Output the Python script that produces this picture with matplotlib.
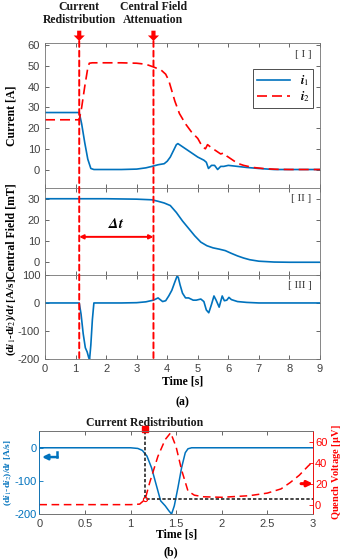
import numpy as np
import matplotlib
matplotlib.use('Agg')
import matplotlib.pyplot as plt
from matplotlib.patches import ConnectionPatch

plt.rcParams['font.family'] = ['Liberation Sans', 'DejaVu Sans']
plt.rcParams['mathtext.fontset'] = 'stix'
plt.rcParams['font.size'] = 7.5
plt.rcParams['axes.unicode_minus'] = False

# ---- data (a) ----
t_i1 = [0, 1.12, 1.2, 1.3, 1.4, 1.5, 1.6, 2.0, 2.5, 3.0, 3.3, 3.5, 3.7, 3.9, 4.0, 4.1, 4.2, 4.3,
        4.35, 4.45, 4.6, 4.8, 5.0, 5.2, 5.28, 5.35, 5.45, 5.55, 5.65, 5.75, 5.85, 6.0, 6.3, 6.6,
        7.0, 7.5, 9.0]
i1 = [27.5, 27.5, 22, 13, 5, 0.5, 0, 0, 0, 0.2, 0.8, 1.5, 2.3, 2.8, 4, 6, 9, 12,
      12.5, 11.5, 10, 8, 6, 4.5, 3.5, 0.5, 2, 2, 0, 1.5, 1.5, 2, 1.5, 1,
      0.5, 0, 0]

t_i2 = [0, 1.12, 1.2, 1.3, 1.4, 1.45, 1.55, 2.0, 2.5, 3.0, 3.3, 3.55, 3.8, 3.95, 4.05, 4.15, 4.25,
        4.4, 4.6, 4.8, 5.0, 5.15, 5.25, 5.32, 5.45, 5.6, 5.75, 5.85, 5.95, 6.1, 6.3, 6.5, 6.8,
        7.2, 7.6, 8.0, 9.0]
i2 = [24, 24, 30, 40, 49, 51.3, 51.5, 51.5, 51.5, 51.3, 50.8, 49.5, 48, 46, 43, 38, 33,
      27, 22, 18, 15, 11, 10, 12, 10.5, 9, 7.5, 8, 6.5, 5, 3, 2, 1,
      0.4, 0.1, 0, 0]

t_field = [0, 1, 2, 3, 3.5, 3.7, 3.9, 4.1, 4.3, 4.5, 4.7, 4.9, 5.1, 5.3, 5.5, 5.7, 5.9, 6.1,
           6.3, 6.5, 6.7, 7.0, 7.5, 8, 9]
field = [30, 30, 30, 29.8, 29.5, 28.8, 28, 26.8, 23.5, 19.5, 16, 12.5, 9.5, 7.8, 6.8, 6.2, 5.5, 4.2,
         3, 2, 1.2, 0.5, 0.1, 0, 0]

t_didt = [0, 1.12, 1.18, 1.25, 1.32, 1.38, 1.43, 1.46, 1.5, 1.55, 1.6, 2.0, 2.5, 3.0, 3.3, 3.55,
          3.7, 3.85, 3.95, 4.05, 4.15, 4.25, 4.32, 4.36, 4.42, 4.5, 4.6, 4.7, 4.85, 4.95, 5.1,
          5.2, 5.28, 5.36, 5.45, 5.53, 5.6, 5.7, 5.8, 5.87, 5.95, 6.02, 6.1, 6.3, 6.6, 7.0, 9.0]
didt = [0, 0, -40, -110, -160, -175, -195, -200, -150, -60, 0, 0, 0, 1, 4, 10,
        18, 5, 8, 25, 45, 75, 95, 92, 65, 35, 18, 18, 10, 10, 14,
        5, -25, -35, -5, 25, 10, -15, 25, 8, 10, 20, 12, 5, 2, 0, 0]

t_redist = 1.12
t_atten = 3.55

# ---- data (b) ----
t_b = [0, 0.5, 1.0, 1.08, 1.13, 1.18, 1.23, 1.28, 1.33, 1.38, 1.42, 1.45, 1.48, 1.52, 1.56,
       1.6, 1.63, 1.67, 1.75, 2.0, 2.5, 3.0]
didt_b = [0, 0, 0, -2, -8, -25, -60, -110, -160, -175, -190, -200, -175, -120, -60,
          -15, -3, 0, 0, 0, 0, 0]
t_v = [0, 0.5, 1.0, 1.1, 1.16, 1.21, 1.3, 1.38, 1.44, 1.5, 1.56, 1.63, 1.7, 1.8, 2.0, 2.3, 2.5,
       2.65, 2.75, 2.85, 2.95, 3.0]
vq = [0, 0, 0, 0.5, 5, 21, 46, 62, 68.5, 55, 33, 13, 9, 7.5, 7, 8.5, 11,
      15, 21, 28, 37, 41]
t_onset = 1.16
v_onset = 5

BLUE = '#0072BD'
RED = '#FF0000'
GREY = '0.3'
SERIF = dict(family='Liberation Serif', weight='bold')


def style(ax):
    ax.tick_params(direction='in', length=3, top=True, right=True, colors=GREY,
                   labelcolor='0.25', labelsize=8, width=0.6)
    for s in ax.spines.values():
        s.set_color('0.45')
        s.set_linewidth(0.6)


fig = plt.figure(figsize=(3.42, 5.6), dpi=100)

ax1 = fig.add_axes([0.1316, 0.664, 0.804, 0.259])
ax2 = fig.add_axes([0.1316, 0.509, 0.804, 0.155])
ax3 = fig.add_axes([0.1316, 0.359, 0.804, 0.150])

# panel I
ax1.plot(t_i1, i1, color=BLUE, lw=1.2, label=r'$\mathbfit{i}_1$')
ax1.plot(t_i2, i2, color=RED, lw=1.2, ls=(0, (6, 3)), label=r'$\mathbfit{i}_2$')
ax1.set_ylim(-9, 61)
ax1.set_yticks([0, 10, 20, 30, 40, 50, 60])
ax1.set_ylabel('Current [A]', fontdict=SERIF, fontsize=8.5)
leg = ax1.legend(loc='upper left', bbox_to_anchor=(0.735, 0.862), fontsize=9,
                 fancybox=False, edgecolor='0.3', handlelength=2.6, borderpad=0.3,
                 labelspacing=0.1, framealpha=1)
leg.get_frame().set_linewidth(0.7)
ax1.text(0.97, 0.95, '[ I ]', transform=ax1.transAxes, ha='right', va='top',
         fontsize=8, family='Liberation Serif', color='0.2')

# panel II
ax2.plot(t_field, field, color=BLUE, lw=1.2)
ax2.set_ylim(-6, 35)
ax2.set_yticks([0, 10, 20, 30])
ax2.set_ylabel('Central Field [mT]', fontdict=SERIF, fontsize=8.5)
ax2.text(0.97, 0.93, '[ II ]', transform=ax2.transAxes, ha='right', va='top',
         fontsize=8, family='Liberation Serif', color='0.2')
ax2.annotate('', xy=(t_redist, 12), xytext=(t_atten, 12),
             arrowprops=dict(arrowstyle='<|-|>', color=RED, lw=1.4,
                             mutation_scale=6, shrinkA=0, shrinkB=0))
ax2.text((t_redist + t_atten) / 2, 18, r'$\mathbfit{\Delta t}$', ha='center',
         va='center', fontsize=10.5)

# panel III
ax3.plot(t_didt, didt, color=BLUE, lw=1.2)
ax3.set_ylim(-200, 100)
ax3.set_yticks([-200, -100, 0, 100])
ax3.set_ylabel(r'(d$\mathbfit{i}_1$-d$\mathbfit{i}_2$)/d$\mathbfit{t}$ [A/s]',
               fontdict=SERIF, fontsize=8)
ax3.text(0.97, 0.93, '[ III ]', transform=ax3.transAxes, ha='right', va='top',
         fontsize=8, family='Liberation Serif', color='0.2')
ax3.set_xlabel('Time [s]', fontdict=SERIF, fontsize=8.5, labelpad=1)

for ax in (ax1, ax2, ax3):
    style(ax)
    ax.set_xlim(0, 9)
    ax.set_xticks(range(10))
    ax.yaxis.set_label_coords(-0.1, 0.5)
for ax in (ax1, ax2):
    ax.tick_params(labelbottom=False)

# red dashed markers across panels
for t, txt in ((t_redist, 'Current\nRedistribution'), (t_atten, 'Central Field\nAttenuation')):
    con = ConnectionPatch(xyA=(t, 62), coordsA=ax1.transData, xyB=(t, -200),
                          coordsB=ax3.transData, color=RED, lw=1.4, ls=(0, (3, 2)),
                          zorder=5)
    fig.add_artist(con)
    ax1.annotate('', xy=(t, 62), xytext=(t, 67), annotation_clip=False,
                 arrowprops=dict(width=3, headwidth=8, headlength=4, color=RED, lw=0))
    ax1.text(t, 69.5, txt, ha='center', va='bottom', fontsize=8.5, fontdict=SERIF,
             linespacing=1.05, clip_on=False, color='0.1')

fig.text(0.5 * (0.1316 * 2 + 0.804), 0.282, '(a)', ha='center', va='center',
         fontsize=8.5, fontdict=SERIF)

# ---- panel (b) ----
axb = fig.add_axes([0.115, 0.082, 0.800, 0.148])
axr = axb.twinx()
axb.plot(t_b, didt_b, color=BLUE, lw=1.1)
axr.plot(t_v, vq, color=RED, lw=1.1, ls=(0, (5, 3)))
axr.plot([t_onset, t_onset, 3.0], [70, v_onset, v_onset], color='0.15', lw=1.2,
         ls=(0, (2, 1.2)), clip_on=False)
axr.plot([t_onset], [v_onset], 'o', ms=3, mfc='none', mec=RED, mew=0.8)
axr.plot([t_onset], [72.5], 's', ms=4.5, color=RED, clip_on=False)

axb.set_xlim(0, 3)
axb.set_xticks([0, 0.5, 1, 1.5, 2, 2.5, 3])
axb.set_xticklabels(['0', '0.5', '1', '1.5', '2', '2.5', '3'])
axb.set_ylim(-200, 50)
axb.set_yticks([-200, -100, 0])
axr.set_ylim(-9, 70)
axr.set_yticks([0, 20, 40, 60])

for a in (axb, axr):
    a.tick_params(direction='in', length=3, top=True, colors=GREY, labelcolor='0.25',
                  labelsize=8, width=0.6)
    for s in a.spines.values():
        s.set_color('0.45')
        s.set_linewidth(0.6)
axb.tick_params(axis='y', colors=BLUE, labelcolor=BLUE, right=False, pad=2)
axr.tick_params(axis='y', colors=RED, labelcolor=RED, left=False, pad=1.5)
axr.spines['left'].set_color(BLUE)
axr.spines['right'].set_color(RED)

axb.set_ylabel(r'(d$\mathbfit{i}_1$-d$\mathbfit{i}_2$)/d$\mathbfit{t}$ [A/s]',
               fontdict=SERIF, fontsize=6.8, color=BLUE)
axb.yaxis.set_label_coords(-0.092, 0.5)
axr.set_ylabel(r'Quench Voltage [$\mathbf{\mu}$V]', fontdict=SERIF, fontsize=7.5,
               color=RED)
axr.yaxis.set_label_coords(1.063, 0.5)
axb.set_xlabel('Time [s]', fontdict=SERIF, fontsize=8.5, labelpad=0)
axb.text(t_onset, 58, 'Current Redistribution', ha='center', va='bottom',
         fontsize=8.5, fontdict=SERIF, color='0.1', clip_on=False)

# hook arrow (left axis) and right arrow (right axis)
axb.plot([0.19, 0.19], [-12, -28], color=BLUE, lw=1.8)
axb.annotate('', xy=(0.03, -28), xytext=(0.2, -28),
             arrowprops=dict(arrowstyle='-|>', color=BLUE, lw=1.8, mutation_scale=8,
                             shrinkA=0, shrinkB=0))
axr.annotate('', xy=(3.0, 20), xytext=(2.87, 20),
             arrowprops=dict(arrowstyle='-|>', color=RED, lw=2.2, mutation_scale=8,
                             shrinkA=0, shrinkB=0))

fig.text(0.5, 0.013, '(b)', ha='center', va='center', fontsize=8.5, fontdict=SERIF)

fig.savefig('out.png', dpi=100)
